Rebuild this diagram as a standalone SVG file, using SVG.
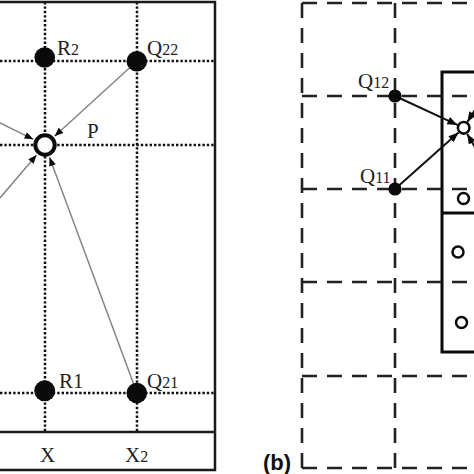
<svg xmlns="http://www.w3.org/2000/svg" width="474" height="474" viewBox="0 0 474 474">
<style>
.frame{fill:none;stroke:#1a1a1a;stroke-width:2.5}
.dot{fill:none;stroke:#111;stroke-width:2.5;stroke-dasharray:2.4 2}
.dash{fill:none;stroke:#222;stroke-width:2.6;stroke-dasharray:15 10}
.gray{fill:none;stroke:#858585;stroke-width:1.5}
.blk{fill:none;stroke:#111;stroke-width:2}
.lbl{font-family:"Liberation Serif","Times New Roman",serif;font-size:21px;fill:#222}
.sub{font-size:16px}
.solid{fill:#0a0a0a}
.ring{fill:#fff;stroke:#0a0a0a}
</style>
<defs>
<marker id="ahs" viewBox="0 0 10 8" refX="10" refY="4" markerWidth="10" markerHeight="7" markerUnits="userSpaceOnUse" orient="auto"><path d="M0,0 L10,4 L0,8 z" fill="#0a0a0a"/></marker>
<marker id="ahb" viewBox="0 0 10 8" refX="10" refY="4" markerWidth="12" markerHeight="8" markerUnits="userSpaceOnUse" orient="auto"><path d="M0,0 L10,4 L0,8 z" fill="#0a0a0a"/></marker>
</defs>
<rect width="474" height="474" fill="#fff"/>
<!-- panel a grid -->
<g id="grid-a">
<path class="dot" d="M0,61 H215 M0,145 H215 M0,393 H215 M45,2 V432 M137,2 V432"/>
<path class="frame" d="M0,2 H215 V470 H0 M0,432 H215"/>
</g>
<!-- panel b grid -->
<g id="grid-b">
<path class="dash" d="M302,3 H474 M302,96 H474 M302,189 H474 M302,282 H474 M302,376 H474 M302,468 H474"/>
<path class="dash" d="M302,3 V468 M395,3 V468"/>
<path fill="none" stroke="#0a0a0a" stroke-width="3" d="M476,72 H442 V352 H476 M442,213 H476"/>
</g>
<g id="connectors">
<line class="gray" x1="137" y1="61" x2="54.6" y2="136.2" marker-end="url(#ahs)"/>
<line class="gray" x1="137" y1="393" x2="49.5" y2="157.2" marker-end="url(#ahs)"/>
<line class="gray" x1="0" y1="123" x2="33.3" y2="139.3" marker-end="url(#ahs)"/>
<line class="gray" x1="0" y1="198" x2="36.6" y2="154.9" marker-end="url(#ahs)"/>
<line class="blk" x1="395" y1="96" x2="457.4" y2="124.9" marker-end="url(#ahb)"/>
<line class="blk" x1="395" y1="189" x2="458.5" y2="132.5" marker-end="url(#ahb)"/>
<line class="blk" x1="500" y1="70" x2="467.4" y2="121.9" marker-end="url(#ahb)"/>
<line class="blk" x1="500" y1="190" x2="467.2" y2="133.9" marker-end="url(#ahb)"/>
</g>
<g id="R2"><circle class="solid" cx="44.7" cy="57.5" r="10.3"/><text class="lbl" x="57" y="55">R<tspan class="sub">2</tspan></text></g>
<g id="Q22"><circle class="solid" cx="136.8" cy="61.2" r="10.3"/><text class="lbl" x="147" y="55">Q<tspan class="sub">22</tspan></text></g>
<g id="P"><circle class="ring" cx="45" cy="145" r="9.7" stroke-width="4"/><text class="lbl" x="87" y="138">P</text></g>
<g id="R1"><circle class="solid" cx="44.7" cy="390.8" r="10.5"/><text class="lbl" x="59" y="388">R1</text></g>
<g id="Q21"><circle class="solid" cx="136.8" cy="393" r="10.3"/><text class="lbl" x="147" y="388">Q<tspan class="sub">21</tspan></text></g>
<g id="X"><text class="lbl" x="40" y="462">X</text></g>
<g id="X2"><text class="lbl" x="125" y="462">X<tspan class="sub">2</tspan></text></g>
<g id="Q12"><circle class="solid" cx="395" cy="96" r="6.6"/><text class="lbl" x="358" y="88">Q<tspan class="sub">12</tspan></text></g>
<g id="Q11"><circle class="solid" cx="395" cy="189" r="6.6"/><text class="lbl" x="360" y="183">Q<tspan class="sub">11</tspan></text></g>
<g id="Pb"><circle class="ring" cx="463.7" cy="127.8" r="5.8" stroke-width="2.6"/></g>
<g id="c1"><circle class="ring" cx="463.5" cy="198.5" r="5.5" stroke-width="2.5"/></g>
<g id="c2"><circle class="ring" cx="458" cy="252" r="5.5" stroke-width="2.5"/></g>
<g id="c3"><circle class="ring" cx="461.5" cy="322.5" r="5.5" stroke-width="2.5"/></g>
<g id="label-b"><text x="263" y="470" font-family="Liberation Sans, Arial, sans-serif" font-weight="bold" font-size="22" fill="#111">(b)</text></g>
</svg>
